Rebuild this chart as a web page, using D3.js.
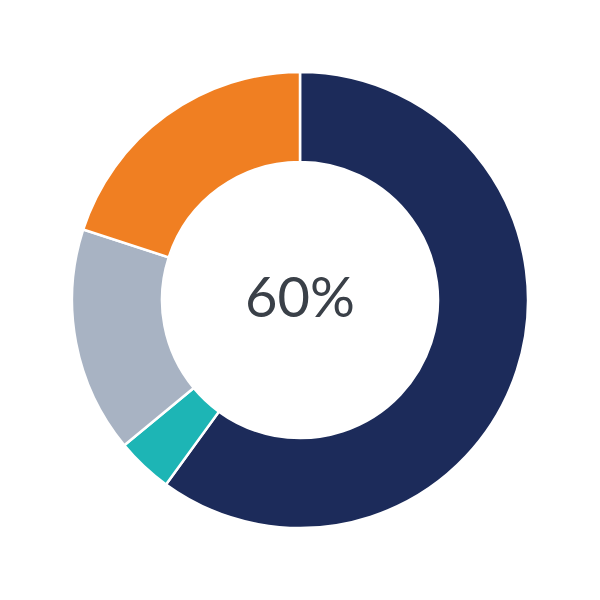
<!DOCTYPE html>
<html lang="en">
<head>
    <meta charset="UTF-8">
    <script src="https://d3js.org/d3.v7.min.js"></script>
    <title>Donut</title>
    <style>
        body{
            margin: 0;
            background-color: #ffffff;
        }
    </style>
</head>
<body>
    <div id="donut"></div>
<script>
const categories = ["Navy", "Teal", "Gray", "Orange"];
const shares = [60, 4, 16, 20];
const colours = ["#1c2b5a", "#1db5b5", "#a8b3c3", "#f07f22"];
const centerLabel = "60%";

    const svg = d3.select("#donut").append("svg").attr("width", 600).attr("height", 600);
    const g = svg.append("g").attr("transform", "translate(300,300)");

    const colour = d3.scaleOrdinal().domain(categories).range(colours);
    const pie = d3.pie().sort(null).value(d => d.value);
    const arc = d3.arc().innerRadius(138).outerRadius(228);

    const data = categories.map((c, i) => ({ name: c, value: shares[i] }));

    g.selectAll("path").data(pie(data)).enter().append("path")
        .attr("d", arc)
        .attr("fill", d => colour(d.data.name))
        .attr("stroke", "#ffffff")
        .attr("stroke-width", 2.5);

    g.append("text")
        .attr("text-anchor", "middle")
        .attr("y", 17)
        .attr("font-family", "Lato, sans-serif")
        .attr("font-weight", 400)
        .attr("font-size", 56)
        .attr("fill", "#3a4048")
        .text(centerLabel);
</script>
</body>
</html>
